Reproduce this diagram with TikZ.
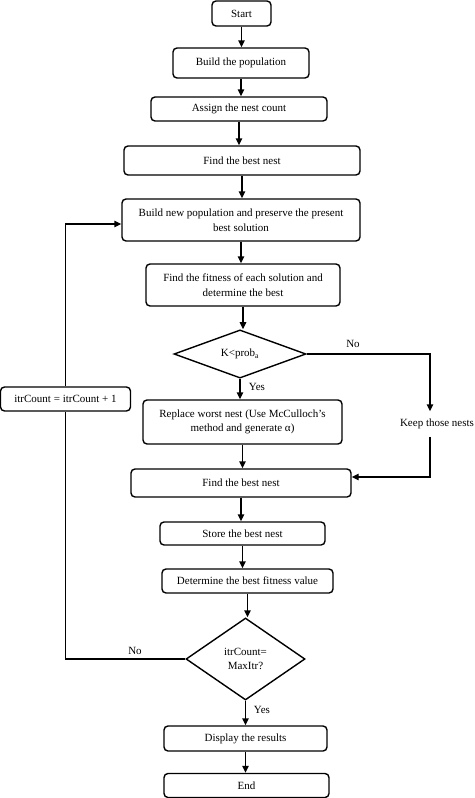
\documentclass[tikz,border=0pt]{standalone}
\usepackage{fontspec}
\setmainfont{Liberation Serif}
\usetikzlibrary{arrows.meta, shapes.geometric, calc}

\begin{document}
\begin{tikzpicture}[x=1pt, y=-1pt, line width=1.4pt, >={Triangle[length=7pt, width=6.5pt]},
	every node/.style={font=\fontsize{11}{14.5}\selectfont, align=center},
	stepbox/.style={draw, rounded corners=4pt, inner sep=0pt},
	decision/.style={draw, diamond, inner sep=0pt}]
	\useasboundingbox (0,0) rectangle (474,798);
	\node[stepbox, minimum width=59pt, minimum height=25pt] (start) at (241.5,13.5) {Start};
	\node[stepbox, minimum width=136pt, minimum height=30pt] (pop) at (241,63) {Build the population};
	\node[stepbox, minimum width=176pt, minimum height=24pt] (count) at (239,109) {Assign the nest count};
	\node[stepbox, minimum width=236pt, minimum height=29pt] (best1) at (242,160.5) {Find the best nest};
	\node[stepbox, minimum width=238pt, minimum height=42pt] (newpop) at (241,220) {Build new population and preserve the present\\best solution};
	\node[stepbox, minimum width=194pt, minimum height=42pt] (fit) at (243,285) {Find the fitness of each solution and\\determine the best};
	\node[decision, minimum width=132pt, minimum height=44pt] (dec1) at (240,354) {K<prob\textsubscript{a}};
	\node[stepbox, minimum width=199pt, minimum height=44pt] (replace) at (242.5,422) {Replace worst nest (Use McCulloch's\\method and generate α)};
	\node[inner sep=7pt] (keep) at (437,424) {Keep those nests};
	\node[stepbox, minimum width=220pt, minimum height=28pt] (best2) at (241,483) {Find the best nest};
	\node[stepbox, minimum width=165pt, minimum height=23pt] (store) at (242.5,533.5) {Store the best nest};
	\node[stepbox, minimum width=171pt, minimum height=24pt] (fitval) at (247.5,581) {Determine the best fitness value};
	\node[decision, minimum width=119pt, minimum height=82pt] (dec2) at (245.5,659) {itrCount=\\MaxItr?};
	\node[stepbox, minimum width=163pt, minimum height=25pt] (display) at (245.5,738.5) {Display the results};
	\node[stepbox, minimum width=165pt, minimum height=24pt] (end) at (246.5,785.5) {End};
	\node[stepbox, minimum width=130pt, minimum height=24pt] (itr) at (65.5,399) {itrCount = itrCount + 1};
	\node (no1) at (353,344) {No};
	\node (yes1) at (257,387) {Yes};
	\node (no2) at (135,651) {No};
	\node (yes2) at (262,710) {Yes};
	\coordinate (turn) at (430,354);

	\draw[->] (start) -- (start |- pop.north);
	\draw[->] (pop) -- (pop |- count.north);
	\draw[->] (count) -- (count |- best1.north);
	\draw[->] (best1) -- (best1 |- newpop.north);
	\draw[->] (newpop) -- (newpop |- fit.north);
	\draw[->] (fit) -- (fit |- dec1.north);
	\draw[->] (dec1) -- (dec1 |- replace.north);
	\draw[->] (dec1.east) -- (turn) -- (turn |- keep.north);
	\draw[->] (turn |- keep.south) |- ([yshift=6pt]best2.east);
	\draw[->] (replace) -- (replace |- best2.north);
	\draw[->] (best2) -- (best2 |- store.north);
	\draw[->] (store) -- (store |- fitval.north);
	\draw[->] (fitval) -- (fitval |- dec2.north);
	\draw[->] (dec2) -- (dec2 |- display.north);
	\draw[->] (display) -- (display |- end.north);
	\draw (dec2.west) -| (itr.south);
	\draw[->] (itr.north) |- ([yshift=-4pt]newpop.west);
\end{tikzpicture}
\end{document}
